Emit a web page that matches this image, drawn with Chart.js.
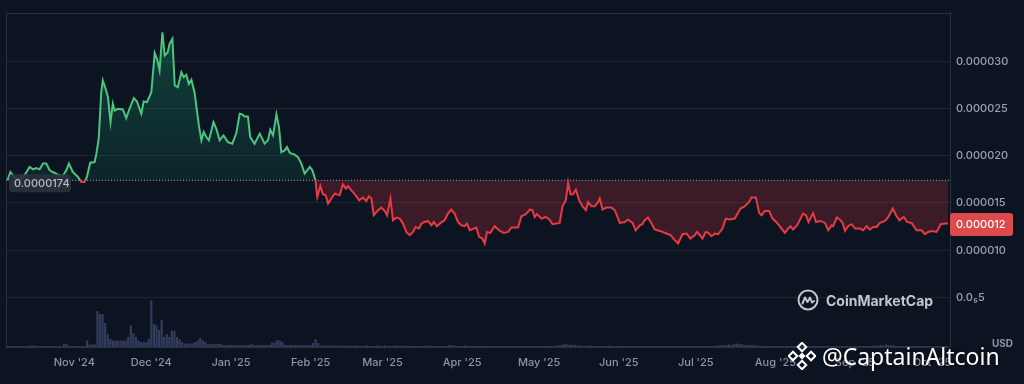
<!DOCTYPE html>
<html>
<head>
<meta charset="utf-8">
<script src="https://cdn.jsdelivr.net/npm/chart.js@4.4.1/dist/chart.umd.min.js"></script>
<style>
  html, body { margin: 0; padding: 0; background: #0d1421; }
  #wrap { position: relative; width: 1024px; height: 384px; overflow: hidden; }
  canvas { display: block; }
  .cmc { position: absolute; left: 797px; top: 289px; display: flex; align-items: center; gap: 7px;
         color: #c2c6cf; font: 700 14px Inter, "Noto Sans", sans-serif; }
  .usd { position: absolute; left: 992px; top: 337px; color: #8a93a8; font: 700 10px Inter, sans-serif; }
  .wm { position: absolute; left: 788px; top: 340px; display: flex; align-items: center; gap: 6px;
        color: #ffffff; font: 400 23px "Noto Sans", "Open Sans", sans-serif; text-shadow: 0 0 3px rgba(0,0,0,0.6); }
</style>
</head>
<body>
<div id="wrap">
  <canvas id="c" width="1024" height="384"></canvas>
  <div class="cmc">
    <svg width="22" height="22" viewBox="0 0 22 22">
      <circle cx="11" cy="11" r="9.5" fill="none" stroke="#c2c6cf" stroke-width="2"/>
      <path d="M5.5 14.5 L8 8.5 L10.5 13 L13 8.5 L15 13.5 L17 12" fill="none" stroke="#c2c6cf" stroke-width="2" stroke-linejoin="round" stroke-linecap="round"/>
    </svg>
    <span>CoinMarketCap</span>
  </div>
  <div class="usd">USD</div>
  <div class="wm">
    <svg width="28" height="28" viewBox="0 0 28 28">
      <g fill="none" stroke="#ffffff" stroke-width="2">
        <rect x="11" y="2" width="6" height="6" transform="rotate(45 14 5)"/>
        <rect x="11" y="20" width="6" height="6" transform="rotate(45 14 23)"/>
        <rect x="2" y="11" width="6" height="6" transform="rotate(45 5 14)"/>
        <rect x="20" y="11" width="6" height="6" transform="rotate(45 23 14)"/>
      </g>
      <rect x="11.5" y="11.5" width="5" height="5" fill="#ffffff" transform="rotate(45 14 14)"/>
    </svg>
    <span>@CaptainAltcoin</span>
  </div>
</div>
<script>
// open price of the period (micro-USD), dotted reference line
const BASE = 17.4;
const openLabel = '0.0000174';
const lastLabel = '0.000012';

// days since 6 Oct 2024
const priceDays = [
  0, 1.1, 2.7, 4.7, 6.6, 8.6, 9.9, 11.2, 12.5, 13.8,
  15.1, 16.4, 17.6, 19.5, 21.4, 22.9, 23.9, 25.4, 27.4, 28.7,
  30.0, 30.9, 32.2, 33.9, 34.6, 35.5, 36.5, 37.1, 38.4, 39.1,
  40.1, 41.0, 41.7, 43.0, 44.9, 46.2, 47.5, 49.2, 50.4, 52.1,
  53.0, 54.3, 56.0, 57.3, 58.2, 59.2, 60.3, 61.2, 62.4, 63.1,
  64.2, 65.1, 66.3, 67.7, 68.6, 69.6, 70.6, 71.6, 72.8, 74.5,
  75.5, 76.4, 77.4, 78.4, 80.2, 81.3, 82.6, 84.1, 85.8, 87.5,
  89.1, 90.4, 91.4, 92.3, 93.6, 94.5, 96.2, 98.2, 100.1, 101.4,
  102.3, 103.4, 104.7, 105.7, 106.6, 107.9, 108.8, 109.9, 111.8, 113.1,
  114.4, 115.7, 117.7, 118.7, 119.9, 120.6, 121.8, 122.8, 123.9, 124.8,
  126.1, 127.4, 129.3, 130.6, 131.7, 132.6, 133.9, 135.6, 136.9, 138.4,
  139.7, 140.7, 141.7, 142.6, 144.3, 145.6, 146.9, 147.8, 149.1, 150.1,
  151.4, 152.7, 154.0, 155.3, 156.6, 157.9, 158.9, 160.2, 161.2, 162.4,
  163.7, 165.1, 166.0, 167.2, 168.6, 170.2, 171.5, 172.8, 174.1, 175.4,
  176.7, 178.0, 178.9, 180.0, 182.6, 183.6, 184.9, 185.8, 186.7, 188.0,
  189.7, 191.4, 193.2, 194.9, 196.2, 198.8, 200.1, 201.8, 203.4, 204.4,
  205.3, 206.2, 207.9, 209.6, 211.0, 212.2, 215.0, 216.1, 217.4, 218.3,
  219.2, 220.2, 221.3, 222.6, 223.9, 225.2, 226.1, 227.4, 228.7, 230.0,
  230.6, 231.7, 233.2, 235.2, 236.5, 238.4, 240.4, 241.6, 243.4, 244.6,
  246.2, 247.2, 248.1, 249.4, 250.8, 252.0, 254.0, 256.6, 258.2, 259.8,
  261.1, 262.8, 264.4, 265.9, 267.6, 268.5, 270.6, 271.9, 272.8, 274.1,
  275.4, 276.7, 278.4, 279.7, 281.3, 283.2, 285.4, 287.1, 288.8, 289.7,
  291.4, 292.7, 293.6, 294.9, 296.6, 297.9, 299.7, 301.4, 302.7, 304.0,
  304.9, 305.9, 307.5, 309.8, 310.9, 311.9, 313.7, 314.8, 316.6, 318.3,
  319.6, 320.9, 321.5, 322.9, 324.1, 325.2, 326.1, 327.3, 328.7, 330.0,
  331.9, 333.2, 334.5, 335.8, 337.1, 338.4, 339.7, 341.7, 343.0, 344.7,
  346.0, 347.3, 349.0, 350.3, 352.0, 354.0, 355.9, 357.2, 358.5, 359.8,
  361.8, 363.4, 365.0, 366.2
];

// price in micro-USD (x 0.000001)
const priceMicroUsd = [
  17.40, 18.28, 17.75, 17.51, 17.93, 18.81, 18.56, 18.70, 18.56, 19.17,
  19.17, 18.46, 18.28, 18.03, 17.82, 18.46, 19.17, 18.28, 17.75, 17.22,
  17.22, 17.75, 19.27, 19.33, 20.22, 21.81, 26.73, 27.97, 26.91, 26.21,
  23.56, 25.51, 24.80, 24.98, 24.90, 23.99, 24.98, 26.10, 25.75, 24.45,
  25.75, 25.68, 26.73, 30.90, 30.26, 29.03, 33.08, 30.61, 30.96, 31.85,
  32.38, 27.44, 27.26, 28.85, 28.32, 28.57, 27.62, 28.04, 26.73, 23.21,
  21.63, 22.51, 21.98, 21.63, 23.56, 22.86, 21.63, 22.16, 21.45, 21.28,
  22.40, 24.45, 24.38, 24.17, 24.17, 21.98, 21.28, 22.34, 21.28, 21.63,
  22.76, 22.16, 24.38, 23.03, 20.39, 20.57, 20.92, 20.29, 20.12, 19.86,
  19.17, 18.11, 18.81, 18.46, 17.40, 15.63, 16.77, 15.92, 15.81, 14.94,
  15.47, 15.99, 15.81, 16.98, 16.52, 16.77, 16.34, 15.81, 15.29, 15.57,
  15.21, 15.71, 15.47, 13.70, 14.23, 14.51, 14.15, 13.70, 15.47, 13.17,
  13.46, 13.35, 12.82, 11.93, 11.59, 11.93, 12.46, 12.29, 12.82, 12.99,
  13.10, 12.64, 12.99, 12.54, 12.89, 13.17, 13.88, 14.30, 13.88, 12.99,
  12.64, 12.54, 12.82, 12.11, 12.40, 11.41, 11.24, 10.71, 11.93, 11.83,
  12.54, 12.11, 11.83, 11.93, 12.40, 12.40, 13.59, 13.81, 14.30, 14.23,
  13.52, 13.81, 13.35, 13.52, 13.25, 12.75, 12.89, 14.65, 15.29, 17.11,
  15.92, 15.92, 16.42, 15.29, 14.65, 14.23, 15.11, 14.65, 14.65, 15.11,
  15.47, 14.30, 14.51, 14.51, 14.23, 12.89, 12.99, 13.25, 12.89, 12.11,
  12.64, 12.75, 13.17, 13.46, 12.82, 12.19, 12.04, 11.77, 11.59, 11.06,
  10.71, 11.69, 11.77, 11.24, 11.59, 11.93, 11.24, 11.93, 11.87, 11.48,
  11.77, 11.69, 12.29, 13.35, 13.25, 13.35, 14.41, 14.65, 15.11, 15.57,
  15.57, 13.94, 13.70, 14.15, 14.15, 13.35, 12.89, 12.29, 11.83, 12.29,
  12.54, 12.19, 12.64, 13.88, 13.70, 12.99, 13.94, 12.99, 13.10, 12.89,
  12.11, 12.64, 12.54, 13.46, 13.25, 12.89, 12.04, 12.54, 12.75, 12.29,
  12.29, 12.11, 12.54, 12.19, 12.46, 12.46, 12.89, 13.10, 13.52, 14.41,
  13.70, 13.17, 13.52, 12.99, 12.89, 12.11, 12.11, 11.69, 11.93, 12.04,
  11.93, 12.75, 12.82, 12.82
];

// daily volume, relative units (day 0 = 6 Oct 2024)
const volumeByDay = [
  1, 1, 1, 1, 1, 1, 1, 1, 1, 1.5,
  1.5, 1, 1, 1, 1, 1, 1, 1, 1, 1,
  1, 1, 3, 3, 1, 1, 1, 1, 1, 1,
  1, 6.5, 2.5, 2.5, 2.5, 36, 33, 33, 24, 13,
  8, 6.5, 6.5, 6.5, 6.5, 6.5, 6.5, 10, 21.5, 14,
  10, 6.5, 5, 5, 5, 8, 46.5, 23, 21.5, 17,
  27, 10, 13, 10, 16.5, 16, 10, 8, 5, 3.5,
  3.5, 3.5, 3.5, 5, 6.5, 9, 7, 5, 3, 3,
  3, 3, 3, 3, 2, 2, 2, 2, 2, 2,
  2, 2, 2, 2, 2, 3, 2, 2, 2, 2,
  2, 2, 2, 4.5, 4.5, 7, 6.5, 5, 2, 2,
  2, 2, 2, 2, 2, 2, 2, 2, 2, 4,
  8, 4, 1.5, 1.5, 1.5, 1.5, 1.5, 1.5, 1.5, 1.5,
  1.5, 1, 1, 1.5, 1, 1, 1.5, 1, 1, 1,
  1.5, 1, 1, 1, 1.5, 1, 1, 1.5, 1, 1,
  1, 1.5, 1, 1, 1, 1.5, 1, 1, 1, 1,
  1, 1, 1, 1.5, 1, 1, 1, 1, 1, 1,
  1, 1, 2, 2, 1.5, 1, 1, 1, 1.5, 1,
  1, 1, 1, 1, 1, 1, 1, 1, 1, 1,
  1, 1, 1, 1, 1, 1, 1, 1, 1, 1,
  1, 1, 1, 1, 1, 1, 1, 1, 1, 1,
  1, 1, 1, 1, 1.5, 2, 2, 3, 2.5, 2,
  2, 2, 1.5, 1.5, 1, 1, 1, 1.5, 1, 1,
  1, 1, 1, 1, 1.5, 1, 1, 1, 1, 1,
  1, 1, 1, 1, 1, 1, 1, 1, 1, 1,
  1, 1, 1, 1, 1, 1, 1, 1, 1, 1,
  1, 1, 1, 1, 1, 1, 1, 1, 1, 1,
  1, 1, 1, 1, 1, 1, 1, 1.5, 2, 2,
  2, 2.5, 2, 3, 3.5, 3, 2.5, 2, 2, 2,
  2, 1.5, 1.5, 1.5, 1, 1, 1, 1, 1, 1,
  1, 1, 1, 1, 1, 1, 1, 1, 1, 1,
  1, 1, 1, 1, 1, 1, 1, 1, 1, 1,
  1, 1, 1, 1, 1, 1, 1, 1, 1, 1,
  1, 1, 1, 1, 1, 1, 1, 1, 1.5, 1.5,
  2, 1.5, 2.5, 2, 1.5, 1.5, 1, 1, 1, 1,
  1, 1, 1, 1, 1, 1, 1, 1, 1, 1,
  1, 1, 1, 1, 1, 1, 1
];

const monthTickDays = [26, 56, 87, 118, 146, 177, 207, 238, 268, 299, 330, 360];
const monthTickLabels = ["Nov '24", "Dec '24", "Jan '25", "Feb '25", "Mar '25", "Apr '25",
                         "May '25", "Jun '25", "Jul '25", "Aug '25", "Sep '25", "Oct '25"];
const yTickValues = [5, 10, 15, 20, 25, 30];
const yTickLabels = ['0.0\u20855', '0.000010', '0.000015', '0.000020', '0.000025', '0.000030'];

const GREEN = '#4cc47f';
const RED = '#ea3943';
const GRID = '#1f2533';
const FRAME = '#2a303e';
const TICK = '#97a1b8';

// split a vertical gradient at the open price
function splitAt(ctx, top, bottom) {
  const chart = ctx.chart;
  const area = chart.chartArea;
  if (!area) return top[0];
  const yb = chart.scales.y.getPixelForValue(BASE);
  const t = Math.min(1, Math.max(0, (yb - area.top) / (area.bottom - area.top)));
  const g = chart.ctx.createLinearGradient(0, area.top, 0, area.bottom);
  g.addColorStop(0, top[0]);
  g.addColorStop(t, top[1]);
  g.addColorStop(t, bottom[0]);
  g.addColorStop(1, bottom[1]);
  return g;
}

const framePlugin = {
  id: 'frame',
  beforeDatasetsDraw(chart) {
    const { ctx, chartArea: a } = chart;
    ctx.save();
    ctx.strokeStyle = FRAME;
    ctx.lineWidth = 1;
    ctx.strokeRect(Math.round(a.left) + 0.5, Math.round(a.top) + 0.5,
                   Math.round(a.right - a.left), Math.round(a.bottom - a.top));
    ctx.restore();
  }
};

function roundBox(ctx, x, y, w, h, r) {
  ctx.beginPath();
  ctx.moveTo(x + r, y);
  ctx.arcTo(x + w, y, x + w, y + h, r);
  ctx.arcTo(x + w, y + h, x, y + h, r);
  ctx.arcTo(x, y + h, x, y, r);
  ctx.arcTo(x, y, x + w, y, r);
  ctx.closePath();
}

const labelPlugin = {
  id: 'priceLabels',
  afterDraw(chart) {
    const { ctx, chartArea: a, scales } = chart;
    const y = scales.y;
    ctx.save();
    ctx.font = '500 11px Inter, sans-serif';
    ctx.textBaseline = 'middle';
    // open price tag on the left
    const yo = y.getPixelForValue(BASE) + 3;
    ctx.fillStyle = 'rgba(44,49,62,0.9)';
    roundBox(ctx, a.left + 3, yo - 9, 62, 18, 4);
    ctx.fill();
    ctx.fillStyle = '#b4bac6';
    ctx.fillText(openLabel, a.left + 8, yo + 0.5);
    // last price tag on the right
    const yl = y.getPixelForValue(priceMicroUsd[priceMicroUsd.length - 1]) + 1;
    ctx.fillStyle = '#dd4a4d';
    roundBox(ctx, a.right, yl - 11.5, 63, 23, 3);
    ctx.fill();
    ctx.fillStyle = '#ffffff';
    ctx.fillText(lastLabel, a.right + 6, yl + 0.5);
    ctx.restore();
  }
};

new Chart(document.getElementById('c'), {
  data: {
    datasets: [
      {
        type: 'line',
        data: priceDays.map((d, i) => ({ x: d, y: priceMicroUsd[i] })),
        yAxisID: 'y',
        borderWidth: 2,
        pointRadius: 0,
        tension: 0,
        borderColor: ctx => splitAt(ctx, [GREEN, GREEN], [RED, RED]),
        backgroundColor: ctx => splitAt(ctx,
          ['rgba(22,199,132,0.28)', 'rgba(22,199,132,0.09)'],
          ['rgba(234,57,67,0.21)', 'rgba(234,57,67,0.21)']),
        fill: { target: { value: BASE } },
        order: 1
      },
      {
        type: 'line',
        data: [{ x: -0.6, y: BASE }, { x: 367, y: BASE }],
        yAxisID: 'y',
        borderColor: 'rgba(215,220,230,0.75)',
        borderWidth: 1,
        borderDash: [1, 2],
        pointRadius: 0,
        fill: false,
        order: 2
      },
      {
        type: 'bar',
        data: volumeByDay.map((v, d) => ({ x: d, y: v })),
        yAxisID: 'yv',
        backgroundColor: '#333c5b',
        categoryPercentage: 1,
        barPercentage: 0.85,
        order: 3
      }
    ]
  },
  options: {
    responsive: false,
    animation: false,
    layout: { padding: { left: 6, top: 12, right: 0, bottom: 0 } },
    plugins: { legend: { display: false }, tooltip: { enabled: false } },
    scales: {
      x: {
        type: 'linear',
        offset: false,
        min: -0.6,
        max: 367,
        grid: { display: false, drawTicks: false, offset: false },
        border: { color: FRAME },
        afterBuildTicks: s => { s.ticks = monthTickDays.map(v => ({ value: v })); },
        afterFit: s => { s.height = 37; },
        ticks: {
          padding: 9,
          color: '#8a93a8',
          font: { family: 'Inter', size: 11, weight: '500' },
          maxRotation: 0,
          autoSkip: false,
          callback: (v, i) => monthTickLabels[i]
        }
      },
      y: {
        position: 'right',
        min: -0.25,
        max: 35.16,
        grid: { color: GRID, drawTicks: false },
        border: { color: FRAME },
        afterBuildTicks: s => { s.ticks = yTickValues.map(v => ({ value: v })); },
        afterFit: s => { s.width = 74; },
        ticks: {
          padding: 6,
          color: TICK,
          font: { family: 'Inter', size: 11, weight: '500' },
          callback: (v, i) => yTickLabels[i]
        }
      },
      yv: { display: false, min: 0, max: 335 }
    }
  },
  plugins: [framePlugin, labelPlugin]
});
</script>
</body>
</html>
